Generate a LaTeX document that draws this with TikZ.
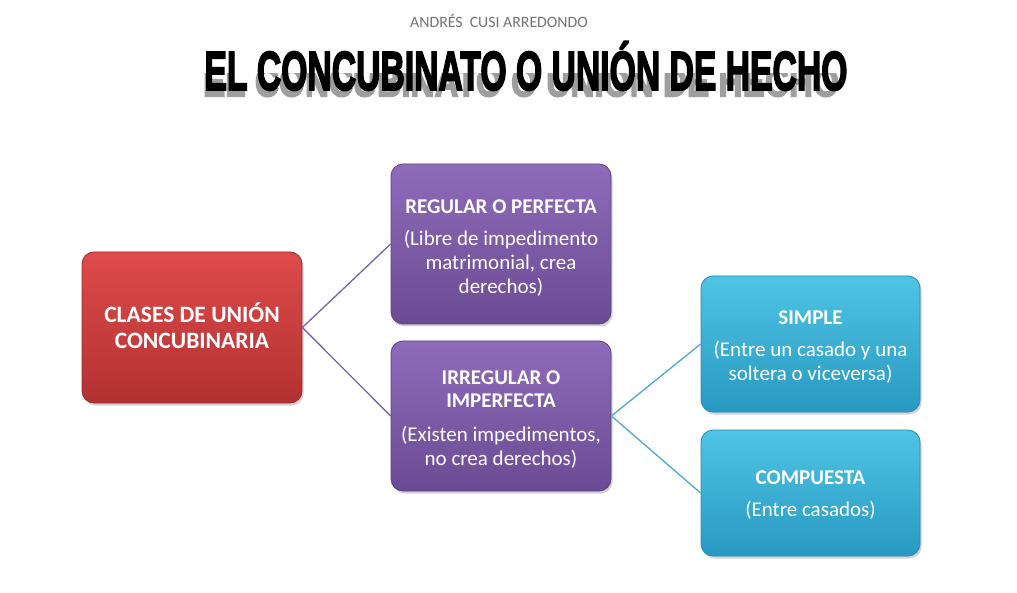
\documentclass[tikz,border=0pt]{standalone}
\usepackage{fontspec}
\setmainfont{Carlito}
\newfontface\titlefont{Liberation Sans Bold}[FakeBold=3.5]
\usetikzlibrary{shadows}
\definecolor{redtop}{HTML}{DE4B4B}
\definecolor{redbot}{HTML}{B33131}
\definecolor{redline}{HTML}{A32A2A}
\definecolor{purtop}{HTML}{8F6CBA}
\definecolor{purbot}{HTML}{6A4B93}
\definecolor{purline}{HTML}{5E4386}
\definecolor{cyantop}{HTML}{4FC4E4}
\definecolor{cyanbot}{HTML}{2899C2}
\definecolor{cyanline}{HTML}{2A8CB0}
\definecolor{purconn}{HTML}{7D62A3}
\definecolor{cyanconn}{HTML}{4BACC6}
\begin{document}
\begin{tikzpicture}[x=1pt,y=-1pt,
  boxbase/.style={rectangle, rounded corners=12pt, draw, line width=0.8pt,
    inner sep=0pt,
    drop shadow={opacity=0.35, shadow xshift=1.5pt, shadow yshift=-2.5pt}},
  redbox/.style={boxbase, top color=redtop, bottom color=redbot, draw=redline,
    minimum width=220pt, minimum height=151pt},
  purbox/.style={boxbase, top color=purtop, bottom color=purbot, draw=purline,
    minimum width=220pt},
  cyanbox/.style={boxbase, top color=cyantop, bottom color=cyanbot, draw=cyanline,
    minimum width=219pt},
  boxtext/.style={text=white, align=center, inner sep=0pt, font=\fontsize{21}{24}\selectfont},
  redtext/.style={text=white, align=center, inner sep=0pt, font=\fontsize{23.5}{26}\selectfont\bfseries},
  purlink/.style={draw=purconn, line width=1.3pt},
  cyanlink/.style={draw=cyanconn, line width=1.3pt}
]
\useasboundingbox (0,0) rectangle (1017,593);
\fill[white] (0,0) rectangle (1017,593);

\node[text=black!55, font=\fontsize{15.8}{18}\selectfont] (author) at (499,21) {ANDRÉS\ \ CUSI ARREDONDO};

\begin{scope}
\clip (150,74) rectangle (900,110);
\node[text=black!38, inner sep=0pt, anchor=south] (titleshadow) at (521,97)
  {\scalebox{1}[0.75]{\resizebox{636pt}{\height}{\titlefont\fontsize{55}{55}\selectfont EL CONCUBINATO O UNIÓN DE HECHO}}};
\end{scope}
\node[text=black, inner sep=0pt, anchor=base] (title) at (526,90)
  {\resizebox{643pt}{\height}{\titlefont\fontsize{55}{55}\selectfont EL CONCUBINATO O UNIÓN DE HECHO}};

\node[redbox] (clases) at (192,327.5) {};
\node[redtext] (clases-t) at ([yshift=2pt]clases.center) {CLASES DE UNIÓN\\CONCUBINARIA};

\node[purbox, minimum height=160pt] (regular) at (501,244) {};
\node[boxtext] (regular-t) at ([yshift=-4pt]regular.center)
  {\textbf{REGULAR O PERFECTA}\\[8pt](Libre de impedimento\\matrimonial, crea\\derechos)};
\node[purbox, minimum height=150pt] (irregular) at (501,416) {};
\node[boxtext] (irregular-t) at ([yshift=-4pt]irregular.center)
  {\textbf{IRREGULAR O}\\[-1pt]\textbf{IMPERFECTA}\\[10pt](Existen impedimentos,\\no crea derechos)};

\node[cyanbox, minimum height=136pt] (simple) at (810.5,344) {};
\node[boxtext] (simple-t) at ([yshift=-3pt]simple.center)
  {\textbf{SIMPLE}\\[8pt](Entre un casado y una\\soltera o viceversa)};
\node[cyanbox, minimum height=126pt] (compuesta) at (810.5,493) {};
\node[boxtext] (compuesta-t) at ([yshift=-2pt]compuesta.center)
  {\textbf{COMPUESTA}\\[8pt](Entre casados)};

\draw[purlink] (clases.east) -- (regular.west);
\draw[purlink] (clases.east) -- (irregular.west);
\draw[cyanlink] (irregular.east) -- (simple.west);
\draw[cyanlink] (irregular.east) -- (compuesta.west);
\end{tikzpicture}
\end{document}
